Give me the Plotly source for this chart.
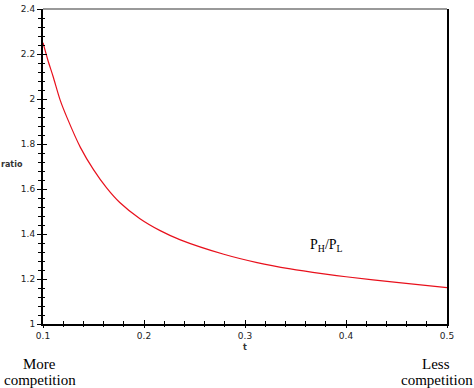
import plotly.graph_objects as go

t_vals = [0.100, 0.105, 0.110, 0.117, 0.124, 0.137, 0.150, 0.163, 0.176, 0.196,
          0.216, 0.236, 0.279, 0.312, 0.345, 0.378, 0.400, 0.450, 0.500]
ratio_vals = [2.25, 2.17, 2.10, 1.995, 1.915, 1.785, 1.686, 1.605, 1.540, 1.468,
              1.415, 1.374, 1.310, 1.273, 1.245, 1.223, 1.210, 1.185, 1.162]

x_ticks = [0.1, 0.2, 0.3, 0.4, 0.5]
x_ticktext = ["0.1", "0.2", "0.3", "0.4", "0.5"]
y_ticks = [1, 1.2, 1.4, 1.6, 1.8, 2, 2.2, 2.4]
y_ticktext = ["1", "1.2", "1.4", "1.6", "1.8", "2", "2.2", "2.4"]

fig = go.Figure()
fig.add_trace(go.Scatter(x=t_vals, y=ratio_vals, mode="lines",
                         line=dict(color="#e8101c", width=1.2, shape="spline", smoothing=0.8),
                         hoverinfo="skip", showlegend=False))
fig.add_trace(go.Scatter(x=t_vals, y=ratio_vals, mode="lines", xaxis="x2", yaxis="y2",
                         line=dict(color="rgba(0,0,0,0)", width=0),
                         hoverinfo="skip", showlegend=False))

tickfont = dict(family="DejaVu Sans", size=9, color="#222")
serif = "Liberation Serif, Times New Roman, serif"
tk = dict(tickcolor="black", tickwidth=1)


def label(text, x, y, size=15):
    return dict(text=text, xref="paper", yref="paper", x=x, y=y,
                xanchor="center", yanchor="middle", showarrow=False,
                font=dict(family=serif, size=size, color="black"))


fig.update_layout(
    width=474, height=388,
    margin=dict(l=43, r=27, t=4, b=64),
    plot_bgcolor="white", paper_bgcolor="white",
    xaxis=dict(range=[0.1, 0.5], tickvals=x_ticks, ticktext=x_ticktext,
               showgrid=False, zeroline=False, showline=True, linecolor="black", linewidth=2,
               ticks="outside", ticklen=2, tickfont=tickfont, ticklabeloverflow="allow", **tk,
               minor=dict(dtick=0.02, ticks="outside", ticklen=1, **tk)),
    yaxis=dict(range=[1, 2.4], tickvals=y_ticks, ticktext=y_ticktext,
               showgrid=False, zeroline=False, showline=True, linecolor="black", linewidth=2,
               mirror=True, ticklabeloverflow="allow",
               ticks="outside", ticklen=4, tickfont=tickfont, **tk,
               minor=dict(dtick=0.04, ticks="outside", ticklen=3, **tk)),
    xaxis2=dict(range=[0.1, 0.5], overlaying="x", tickvals=x_ticks, showticklabels=False,
                showgrid=False, zeroline=False, showline=False,
                ticks="inside", ticklen=4, **tk,
                minor=dict(dtick=0.02, ticks="inside", ticklen=3, **tk)),
    yaxis2=dict(range=[1, 2.4], overlaying="y", tickvals=y_ticks, showticklabels=False,
                showgrid=False, zeroline=False, showline=False,
                ticks="inside", ticklen=4, **tk,
                minor=dict(dtick=0.04, ticks="inside", ticklen=2, **tk)),
    shapes=[dict(type="line", xref="paper", yref="paper", x0=0, x1=1, y0=1, y1=1,
                 line=dict(color="#999", width=2))],
    annotations=[
        dict(text="<b>ratio</b>", xref="paper", yref="paper", x=-0.108, y=0.505,
             xanchor="left", yanchor="middle", showarrow=False,
             font=dict(family="DejaVu Sans", size=8, color="#333")),
        dict(text="<b>t</b>", xref="paper", yref="paper", x=0.5, y=-0.055,
             xanchor="center", yanchor="top", showarrow=False,
             font=dict(family="DejaVu Sans", size=8, color="#333")),
        dict(text="P<sub>H</sub>/P<sub>L</sub>", x=0.362, y=1.35, xref="x", yref="y",
             xanchor="left", yanchor="middle", showarrow=False,
             font=dict(family=serif, size=14, color="black")),
        label("More", -0.0075, -0.128),
        label("competition", -0.0075, -0.178),
        label("Less", 0.973, -0.128),
        label("competition", 0.975, -0.178),
    ],
)

fig.write_html("out.html", config={"displayModeBar": False},
               post_script="document.body.style.margin='0';")
